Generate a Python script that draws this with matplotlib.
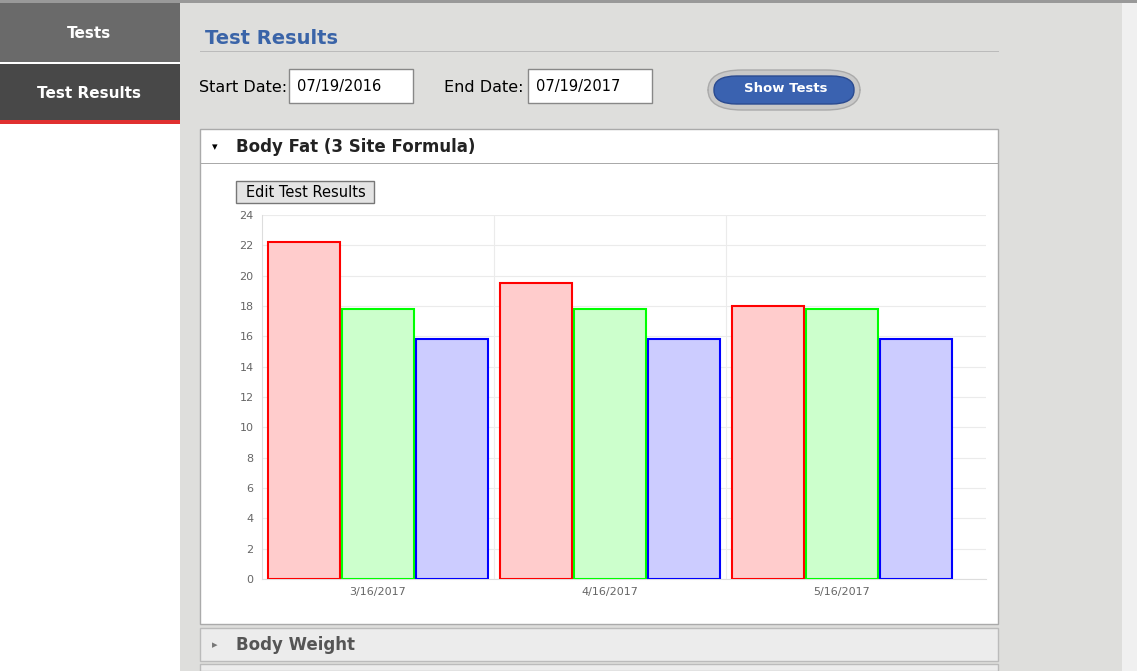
import matplotlib
matplotlib.use("Agg")
import matplotlib.pyplot as plt
from matplotlib.patches import Rectangle, FancyBboxPatch

W, H = 1137, 671

dates = ["3/16/2017", "4/16/2017", "5/16/2017"]
series_a = [22.2, 19.5, 18.0]
series_b = [17.8, 17.8, 17.8]
series_c = [15.8, 15.8, 15.8]
y_ticks = list(range(0, 26, 2))

fill = ["#ffcccc", "#ccffcc", "#ccccff"]
edge = ["#ff0000", "#00ff00", "#0000ff"]


def fx(x):
    return x / W


def fy(y):
    return 1 - y / H


def box(fig, x0, y0, x1, y1, fc, ec="none", lw=1, z=0):
    fig.add_artist(Rectangle((fx(x0), fy(y1)), fx(x1) - fx(x0), fy(y0) - fy(y1),
                             transform=fig.transFigure, fc=fc, ec=ec, lw=lw, zorder=z))


def txt(fig, x, y, s, **kw):
    fig.text(fx(x), fy(y), s, va="center", **kw)


fig = plt.figure(figsize=(W / 100, H / 100), dpi=100)
fig.patch.set_facecolor("white")

# page background and sidebar
box(fig, 180, 0, 1137, 671, "#dededc")
box(fig, 1122, 0, 1137, 671, "#f0f0f0")
box(fig, 0, 0, 180, 671, "white")
box(fig, 0, 0, 180, 62, "#6a6a6a")
box(fig, 0, 64, 180, 120, "#484848")
box(fig, 0, 120, 180, 124, "#e03030")
box(fig, 475, 0, 557, 3, "#e03030")
box(fig, 0, 0, 1137, 3, "#999999")
txt(fig, 89, 33, "Tests", ha="center", color="white", fontsize=11, weight="bold")
txt(fig, 89, 93, "Test Results", ha="center", color="white", fontsize=11, weight="bold")

# header
txt(fig, 205, 39, "Test Results", color="#3a64a8", fontsize=14, weight="bold")
box(fig, 200, 51, 999, 52, "#bbbbbb")
txt(fig, 199, 87, "Start Date:", color="black", fontsize=11.5)
box(fig, 289, 69, 413, 103, "white", "#888888")
txt(fig, 297, 86, "07/19/2016", fontsize=10.5)
txt(fig, 444, 87, "End Date:", color="black", fontsize=11.5)
box(fig, 528, 69, 652, 103, "white", "#888888")
txt(fig, 536, 86, "07/19/2017", fontsize=10.5)
fig.add_artist(FancyBboxPatch((fx(708), fy(110)), fx(152), fy(70) - fy(110),
                              boxstyle="round,pad=0,rounding_size=0.03",
                              transform=fig.transFigure, fc="#c8c8c8", ec="#aaaaaa"))
fig.add_artist(FancyBboxPatch((fx(714), fy(104)), fx(140), fy(76) - fy(104),
                              boxstyle="round,pad=0,rounding_size=0.02",
                              transform=fig.transFigure, fc="#3a62b0", ec="#2a4a90"))
txt(fig, 786, 89, "Show Tests", ha="center", color="white", fontsize=9.5, weight="bold")

# panel
box(fig, 200, 129, 998, 624, "white", "#aaaaaa")
box(fig, 200, 163, 998, 164, "#aaaaaa")
txt(fig, 212, 147, "▾", fontsize=8)
txt(fig, 236, 147, "Body Fat (3 Site Formula)", fontsize=12, weight="bold", color="#222222")
box(fig, 236, 181, 374, 203, "#e4e4e4", "#777777")
txt(fig, 306, 192, "Edit Test Results", ha="center", fontsize=10.5)
box(fig, 200, 628, 998, 661, "#ececec", "#bbbbbb")
txt(fig, 212, 645, "▸", fontsize=8, color="#777777")
txt(fig, 236, 645, "Body Weight", fontsize=12, weight="bold", color="#555555")
box(fig, 200, 664, 998, 671, "#ececec", "#bbbbbb")

# chart
ax = fig.add_axes([fx(262), fy(579), fx(986) - fx(262), fy(215) - fy(579)])
ax.set_facecolor("white")
n = len(dates)
bw = 0.31
for i, vals in enumerate([series_a, series_b, series_c]):
    xs = [k + 0.5 + (i - 1) * 0.32 for k in range(n)]
    ax.bar(xs, vals, width=bw, color=fill[i], edgecolor=edge[i], linewidth=1.5, zorder=3)
ax.set_xlim(0, 724 / 232)
ax.set_ylim(0, 24)
ax.set_yticks(y_ticks)
ax.set_xticks([k + 0.5 for k in range(n)])
ax.set_xticklabels(dates)
ax.tick_params(labelsize=8, colors="#666666", length=0, pad=6)
for v in y_ticks:
    ax.axhline(v, color="#ebebeb", lw=0.8, zorder=0)
for k in range(1, n):
    ax.axvline(k, color="#ebebeb", lw=0.8, zorder=0)
for s in ["top", "right"]:
    ax.spines[s].set_visible(False)
for s in ["left", "bottom"]:
    ax.spines[s].set_color("#dddddd")

fig.savefig("out.png", dpi=100)
